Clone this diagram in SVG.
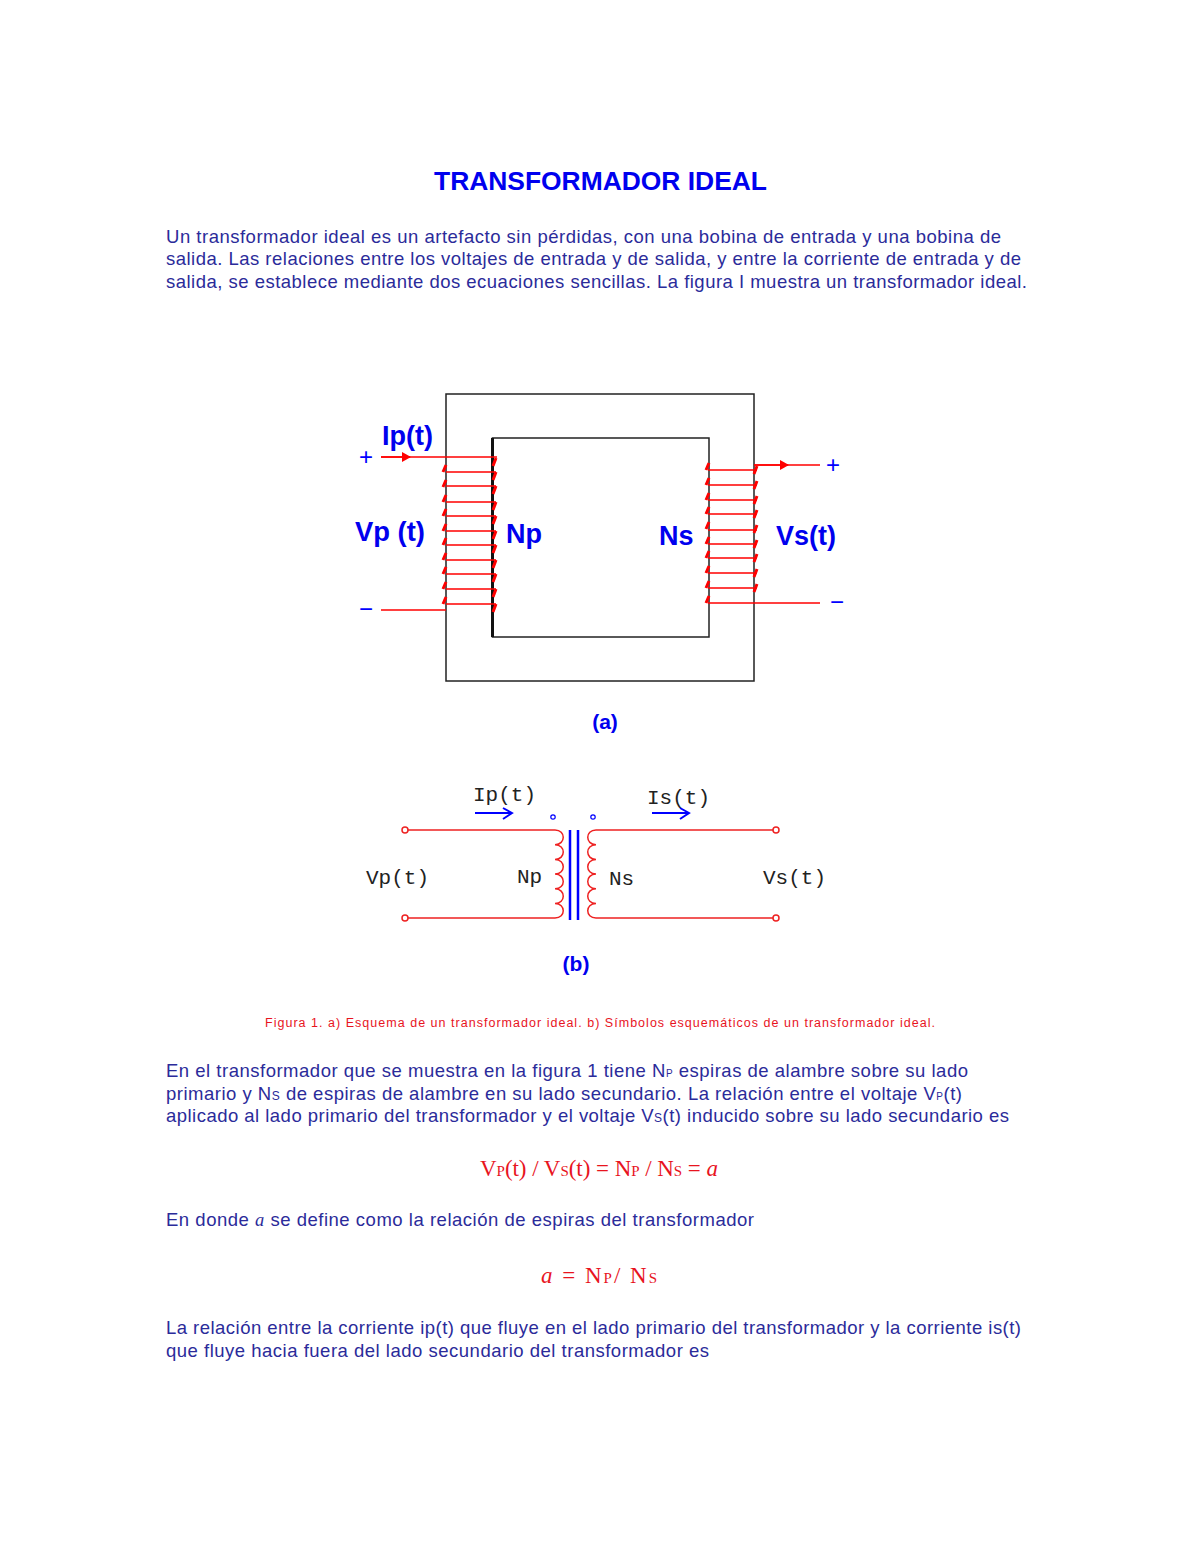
<svg xmlns="http://www.w3.org/2000/svg" width="1200" height="1553" viewBox="0 0 1200 1553">
<style>
.b{font-family:"Liberation Sans",Arial,sans-serif;font-size:18.5px;fill:#2b2b9a}
.lb{font-family:"Liberation Sans",Arial,sans-serif;font-weight:bold;fill:#0000ee}
.m{font-family:"Liberation Mono","Courier New",monospace;font-size:21px;fill:#222}
.eq{font-family:"Liberation Serif","Times New Roman",serif;font-size:23px;fill:#e8141e}
.r{stroke:#f00;stroke-width:1.5;fill:none}
.k{stroke:#222;stroke-width:1.5;fill:none}
.bl{stroke:#00f;stroke-width:2.5;fill:none}
.w{stroke:#e22;stroke-width:1.5;fill:none}
</style>
<defs>
<marker id="ar" markerWidth="10" markerHeight="10" refX="8" refY="5" orient="auto" markerUnits="userSpaceOnUse"><path d="M0,0 L9,5 L0,10 Z" fill="#f00"/></marker>
</defs>
<rect width="1200" height="1553" fill="#fff"/>
<text x="434" y="190" class="lb" font-size="25" textLength="333" lengthAdjust="spacingAndGlyphs">TRANSFORMADOR IDEAL</text>
<text class="b" x="166" y="243" textLength="835">Un transformador ideal es un artefacto sin pérdidas, con una bobina de entrada y una bobina de</text>
<text class="b" x="166" y="265" textLength="855">salida. Las relaciones entre los voltajes de entrada y de salida, y entre la corriente de entrada y de</text>
<text class="b" x="166" y="288" textLength="861">salida, se establece mediante dos ecuaciones sencillas. La figura I muestra un transformador ideal.</text>

<g id="core">
<rect x="446" y="394" width="308" height="287" class="k"/>
<rect x="492.5" y="438" width="216.5" height="199" class="k"/>
<line x1="492.5" y1="438" x2="492.5" y2="637" stroke="#111" stroke-width="3"/>
</g>
<g id="connectors">
<path class="r" d="M381,457 H497" />
<path class="r" d="M381,457 H410" marker-end="url(#ar)"/>
<path class="r" d="M381,610 H446"/>
<path class="r" d="M446,472 H496 M446,486 H496 M446,502 H496 M446,516 H496 M446,531 H496 M446,545 H496 M446,560 H496 M446,574 H496 M446,589 H496 M446,604 H496"/>
<g stroke="#f00" stroke-width="3">
<path d="M496,458 l-3,8 M496,472 l-3,8 M496,486 l-3,8 M496,502 l-3,8 M496,516 l-3,8 M496,531 l-3,8 M496,545 l-3,8 M496,560 l-3,8 M496,574 l-3,8 M496,589 l-3,8 M496,604 l-3,8"/>
<path d="M446,465 l-3,7 M446,480 l-3,7 M446,495 l-3,7 M446,509 l-3,7 M446,524 l-3,7 M446,538 l-3,7 M446,553 l-3,7 M446,567 l-3,7 M446,582 l-3,7 M446,597 l-3,7"/>
<path d="M757,466 l-3,8 M757,481 l-3,8 M757,496 l-3,8 M757,510 l-3,8 M757,525 l-3,8 M757,540 l-3,8 M757,554 l-3,8 M757,569 l-3,8 M757,584 l-3,8"/>
<path d="M709,463 l-3,7 M709,478 l-3,7 M709,493 l-3,7 M709,507 l-3,7 M709,522 l-3,7 M709,537 l-3,7 M709,551 l-3,7 M709,566 l-3,7 M709,581 l-3,7 M709,596 l-3,7"/>
</g>
<path class="r" d="M708,470 H757 M708,485 H757 M708,500 H757 M708,514 H757 M708,530 H757 M708,544 H757 M708,558 H757 M708,573 H757 M708,588 H757"/>
<path class="r" d="M754,465 H820"/>
<path class="r" d="M754,465 H788" marker-end="url(#ar)"/>
<path class="r" d="M708,603 H820"/>

<path class="w" d="M408,830 H555 M408,918 H555 M596,830 H773 M596,918 H773"/>
<path class="w" d="M555,830 c11,0 11,14.7 0,14.7 c11,0 11,14.7 0,14.7 c11,0 11,14.7 0,14.7 c11,0 11,14.7 0,14.7 c11,0 11,14.7 0,14.7 c11,0 11,14.5 0,14.5"/>
<path class="w" d="M596,830 c-11,0 -11,14.7 0,14.7 c-11,0 -11,14.7 0,14.7 c-11,0 -11,14.7 0,14.7 c-11,0 -11,14.7 0,14.7 c-11,0 -11,14.7 0,14.7 c-11,0 -11,14.5 0,14.5"/>
<path class="bl" d="M570,830 V920 M578,830 V920"/>
<g fill="#fff" stroke="#e22" stroke-width="1.5">
<circle cx="405" cy="830" r="3"/><circle cx="405" cy="918" r="3"/>
<circle cx="776" cy="830" r="3"/><circle cx="776" cy="918" r="3"/>
</g>
<g fill="#fff" stroke="#00f" stroke-width="1.2"><circle cx="553" cy="817" r="2.2"/><circle cx="593" cy="817" r="2.2"/></g>
<path d="M475,813 H512 M503,808 L512,813 L503,819 M652,813 H689 M680,808 L689,813 L680,819" stroke="#00f" stroke-width="2" fill="none"/>
</g>
<g id="labels-a">
<text x="366" y="465" fill="#00f" font-family="Liberation Sans,sans-serif" font-size="24" text-anchor="middle">+</text>
<text x="366" y="617" fill="#00f" font-family="Liberation Sans,sans-serif" font-size="24" text-anchor="middle">−</text>
<text x="833" y="473" fill="#00f" font-family="Liberation Sans,sans-serif" font-size="24" text-anchor="middle">+</text>
<text x="837" y="610" fill="#00f" font-family="Liberation Sans,sans-serif" font-size="24" text-anchor="middle">−</text>
<text x="382" y="445" class="lb" font-size="27">Ip(t)</text>
<text x="355" y="541" class="lb" font-size="27" textLength="70" lengthAdjust="spacingAndGlyphs">Vp (t)</text>
<text x="506" y="543" class="lb" font-size="27">Np</text>
<text x="659" y="545" class="lb" font-size="27">Ns</text>
<text x="776" y="545" class="lb" font-size="27">Vs(t)</text>
<text x="605" y="729" class="lb" font-size="21" text-anchor="middle">(a)</text>
</g>
<g id="labels-b">
<text x="473" y="801" class="m">Ip(t)</text>
<text x="647" y="804" class="m">Is(t)</text>
<text x="366" y="884" class="m">Vp(t)</text>
<text x="517" y="883" class="m">Np</text>
<text x="609" y="885" class="m">Ns</text>
<text x="763" y="884" class="m">Vs(t)</text>
<text x="576" y="971" class="lb" font-size="21" text-anchor="middle">(b)</text>
</g>
<text x="265" y="1027" font-family="Liberation Sans,sans-serif" font-size="12.5" fill="#e8141e" textLength="670">Figura 1. a) Esquema de un transformador ideal. b) Símbolos esquemáticos de un transformador ideal.</text>
<text class="b" x="166" y="1077" textLength="802">En el transformador que se muestra en la figura 1 tiene N<tspan font-size="10">P</tspan> espiras de alambre sobre su lado</text>
<text class="b" x="166" y="1100" textLength="796">primario y N<tspan font-size="12">S</tspan> de espiras de alambre en su lado secundario. La relación entre el voltaje V<tspan font-size="10">P</tspan>(t)</text>
<text class="b" x="166" y="1122" textLength="843">aplicado al lado primario del transformador y el voltaje V<tspan font-size="12">S</tspan>(t) inducido sobre su lado secundario es</text>
<text class="eq" x="480" y="1176" textLength="238">V<tspan font-size="15">P</tspan>(t) / V<tspan font-size="15">S</tspan>(t) = N<tspan font-size="15">P</tspan> / N<tspan font-size="15">S</tspan> = <tspan font-style="italic">a</tspan></text>
<text class="b" x="166" y="1226" textLength="588">En donde <tspan font-family="Liberation Serif,serif" font-style="italic">a</tspan> se define como la relación de espiras del transformador</text>
<text class="eq" x="541" y="1283" textLength="116"><tspan font-style="italic">a</tspan> = N<tspan font-size="15">P</tspan>/ N<tspan font-size="15">S</tspan></text>
<text class="b" x="166" y="1334" textLength="855">La relación entre la corriente ip(t) que fluye en el lado primario del transformador y la corriente is(t)</text>
<text class="b" x="166" y="1357" textLength="543">que fluye hacia fuera del lado secundario del transformador es</text>
</svg>
